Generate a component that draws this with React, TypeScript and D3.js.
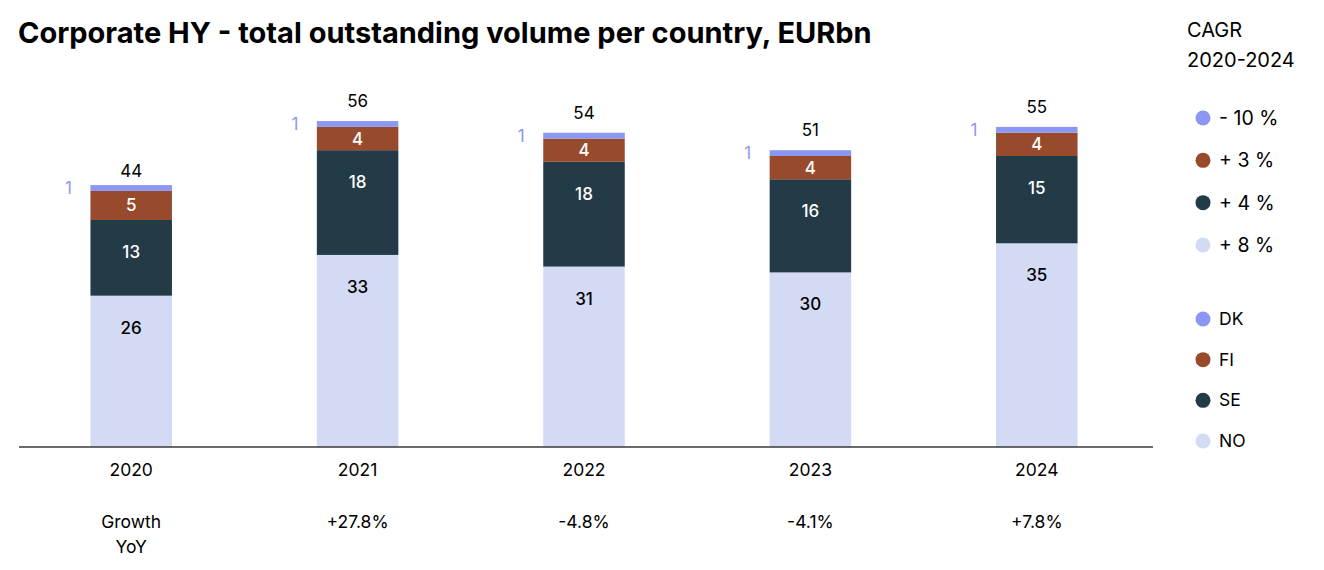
import React, { useEffect, useRef } from 'react';
import * as d3 from 'd3';

const years = ['2020', '2021', '2022', '2023', '2024'];
const countries = ['NO', 'SE', 'FI', 'DK'];
const noValues = [26, 33, 31, 30, 35];
const seValues = [13, 18, 18, 16, 15];
const fiValues = [5, 4, 4, 4, 4];
const dkValues = [1, 1, 1, 1, 1];
const totals = [44, 56, 54, 51, 55];
const growth = ['', '+27.8%', '-4.8%', '-4.1%', '+7.8%'];
const cagrLabels = ['- 10 %', '+ 3 %', '+ 4 %', '+ 8 %'];
const legendOrder = ['DK', 'FI', 'SE', 'NO'];

const colors: Record<string, string> = {
  DK: '#8b97f2',
  FI: '#974b2c',
  SE: '#233a47',
  NO: '#d3daf3',
};

const FONT = 'Inter, "Noto Sans", sans-serif';

export default function App() {
  const svgRef = useRef<SVGSVGElement | null>(null);

  useEffect(() => {
    if (!svgRef.current) return;
    const svg = d3.select(svgRef.current);
    svg.selectAll('*').remove();

    const rows = years.map((year, i) => ({
      year,
      NO: noValues[i],
      SE: seValues[i],
      FI: fiValues[i],
      DK: dkValues[i],
    }));

    const x = d3.scaleBand<string>()
      .domain(years)
      .range([18, 1150])
      .paddingInner(0.64)
      .paddingOuter(0.32);

    const y = d3.scaleLinear().domain([0, 60]).range([447, 97.8]);

    const series = d3.stack<any>().keys(countries)(rows);

    svg.append('rect').attr('width', 1324).attr('height', 570).attr('fill', '#fff');

    // title
    svg.append('text')
      .attr('x', 18)
      .attr('y', 43)
      .attr('font-family', FONT)
      .attr('font-size', 29)
      .attr('font-weight', 700)
      .attr('fill', '#000')
      .text('Corporate HY - total outstanding volume per country, EURbn');

    // stacked bars
    const layers = svg.append('g');
    series.forEach(s => {
      const key = s.key;
      layers.append('g')
        .selectAll('rect')
        .data(s)
        .enter()
        .append('rect')
        .attr('x', d => x(d.data.year)!)
        .attr('width', x.bandwidth())
        .attr('y', d => y(d[1]))
        .attr('height', d => y(d[0]) - y(d[1]))
        .attr('fill', colors[key]);

      if (key === 'DK') {
        // small segment, label sits left of the bar
        layers.append('g')
          .selectAll('text')
          .data(s)
          .enter()
          .append('text')
          .attr('x', d => x(d.data.year)! - 22)
          .attr('y', d => y(d[1]) + 9)
          .attr('text-anchor', 'middle')
          .attr('font-family', FONT)
          .attr('font-size', 17)
          .attr('fill', colors.DK)
          .text(d => d.data[key]);
      } else {
        layers.append('g')
          .selectAll('text')
          .data(s)
          .enter()
          .append('text')
          .attr('x', d => x(d.data.year)! + x.bandwidth() / 2)
          .attr('y', d => {
            const top = y(d[1]);
            const mid = (y(d[0]) + y(d[1])) / 2;
            return Math.min(mid, top + 32) + 6;
          })
          .attr('text-anchor', 'middle')
          .attr('font-family', FONT)
          .attr('font-size', 17)
          .attr('font-weight', 500)
          .attr('fill', key === 'NO' ? '#000' : '#fff')
          .text(d => d.data[key]);
      }
    });

    // totals above bars
    svg.append('g')
      .selectAll('text')
      .data(years)
      .enter()
      .append('text')
      .attr('x', d => x(d)! + x.bandwidth() / 2)
      .attr('y', (d, i) => y(totals[i]) - 14)
      .attr('text-anchor', 'middle')
      .attr('font-family', FONT)
      .attr('font-size', 17)
      .attr('fill', '#000')
      .text((d, i) => totals[i]);

    // baseline
    svg.append('line')
      .attr('x1', 19)
      .attr('x2', 1153)
      .attr('y1', y(0))
      .attr('y2', y(0))
      .attr('stroke', '#3a3a3a')
      .attr('stroke-width', 1.3);

    // year labels
    svg.append('g')
      .selectAll('text')
      .data(years)
      .enter()
      .append('text')
      .attr('x', d => x(d)! + x.bandwidth() / 2)
      .attr('y', 476)
      .attr('text-anchor', 'middle')
      .attr('font-family', FONT)
      .attr('font-size', 17.5)
      .attr('fill', '#000')
      .text(d => d);

    // growth row
    const g0 = x(years[0])! + x.bandwidth() / 2;
    const growthText = svg.append('text')
      .attr('text-anchor', 'middle')
      .attr('font-family', FONT)
      .attr('font-size', 17.5)
      .attr('fill', '#000');
    growthText.append('tspan').attr('x', g0).attr('y', 528).text('Growth');
    growthText.append('tspan').attr('x', g0).attr('y', 553).text('YoY');

    svg.append('g')
      .selectAll('text')
      .data(years.slice(1))
      .enter()
      .append('text')
      .attr('x', d => x(d)! + x.bandwidth() / 2)
      .attr('y', 528)
      .attr('text-anchor', 'middle')
      .attr('font-family', FONT)
      .attr('font-size', 17.5)
      .attr('fill', '#000')
      .text((d, i) => growth[i + 1]);

    // legend
    const legend = svg.append('g').attr('font-family', FONT).attr('fill', '#000');
    legend.append('text').attr('x', 1187).attr('y', 37).attr('font-size', 20).text('CAGR');
    legend.append('text').attr('x', 1187).attr('y', 67).attr('font-size', 20).text('2020-2024');

    const cagrY = d3.scalePoint<string>().domain(legendOrder).range([118, 245]);
    const countryY = d3.scalePoint<string>().domain(legendOrder).range([319, 441]);

    legendOrder.forEach((c, i) => {
      legend.append('circle').attr('cx', 1203).attr('cy', cagrY(c)!).attr('r', 7.5).attr('fill', colors[c]);
      legend.append('text').attr('x', 1219).attr('y', cagrY(c)! + 7).attr('font-size', 19.5).text(cagrLabels[i]);
      legend.append('circle').attr('cx', 1203).attr('cy', countryY(c)!).attr('r', 7.5).attr('fill', colors[c]);
      legend.append('text').attr('x', 1219).attr('y', countryY(c)! + 6).attr('font-size', 17.5).text(c);
    });
  }, []);

  return (
    <svg
      ref={svgRef}
      width={1324}
      height={570}
      viewBox="0 0 1324 570"
      style={{ display: 'block', position: 'absolute', left: 0, top: 0 }}
    />
  );
}
